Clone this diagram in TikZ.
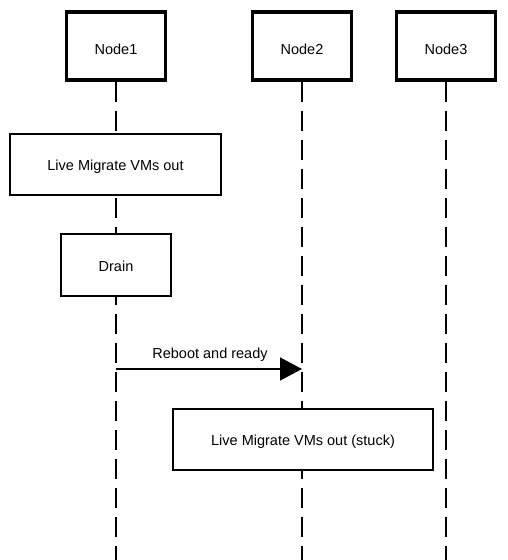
\documentclass[tikz,border=0pt]{standalone}
\usepackage{fontspec}
\setmainfont{Liberation Sans}
\usetikzlibrary{arrows.meta}
\begin{document}
\begin{tikzpicture}[x=1pt,y=-1pt,
  every node/.style={font=\fontsize{14.5}{17}\selectfont},
  actor/.style={draw, line width=3.5pt, minimum width=99pt, minimum height=68pt, inner sep=0pt, text height=17pt, text depth=0pt},
  act/.style={draw, fill=white, line width=1.5pt, inner sep=0pt, text height=12.5pt, text depth=0pt},
  life/.style={line width=2pt, dash pattern=on 20pt off 9pt},
  msg/.style={line width=1.5pt, -{Triangle[length=22pt,width=23pt]}}]
\useasboundingbox (0,0) rectangle (507,560);
\node[actor] (n1) at (116,46) {Node1};
\node[actor] (n2) at (302,46) {Node2};
\node[actor] (n3) at (446,46) {Node3};
\coordinate (e1) at (116,560);
\coordinate (e2) at (302,560);
\coordinate (e3) at (446,560);
\draw[life] (n1.south) -- (e1);
\draw[life] (n2.south) -- (e2);
\draw[life] (n3.south) -- (e3);
\node[act, minimum width=211pt, minimum height=61pt] (a1) at (115.5,164.5) {Live Migrate VMs out};
\node[act, minimum width=110pt, minimum height=62pt] (a2) at (116,265) {Drain};
\coordinate (s) at (116,369);
\coordinate (t) at (302,369);
\draw[msg] (s) -- (t) node[midway, above=3pt, xshift=1pt] (lbl) {Reboot and ready};
\node[act, minimum width=260pt, minimum height=61pt] (a3) at (303,439.5) {Live Migrate VMs out (stuck)};
\end{tikzpicture}
\end{document}
